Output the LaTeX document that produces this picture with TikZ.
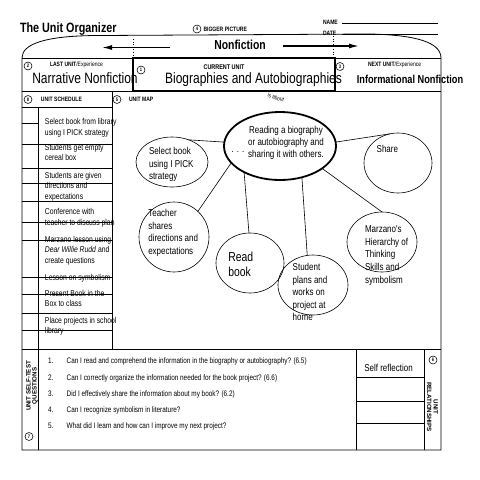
\documentclass[tikz,border=0pt]{standalone}
\usepackage{fontspec}
\setmainfont{Liberation Sans}
\newfontfamily\nf[FakeStretch=0.8]{Liberation Sans}
\usetikzlibrary{shapes.geometric,arrows.meta}
\newcommand\fsz[2]{\fontsize{#1}{#2}\selectfont}
\begin{document}
\begin{tikzpicture}[x=1pt,y=-1pt,
  every node/.style={inner sep=0pt,outer sep=0pt},
  rule/.style={line width=0.8pt},
  hair/.style={line width=0.6pt},
  bubble/.style={ellipse, draw, line width=0.6pt, inner sep=0pt},
  hub/.style={ellipse, draw, line width=1.8pt, inner sep=0pt},
  num/.style={circle, draw, line width=0.55pt, minimum size=8pt, font=\nf\bfseries\fsz{5}{5}},
  tag/.style={anchor=west, font=\nf\fsz{6.3}{7}},
  sched/.style={anchor=north west, align=left, font=\nf\fsz{8.5}{10.8}},
  maptext/.style={anchor=north west, align=left, font=\nf\fsz{10}{12.7}},
  quest/.style={anchor=base west, font=\nf\fsz{8}{9}},
  link/.style={line width=0.6pt},
  bigarrow/.style={line width=1.3pt, -{Latex[length=10pt,width=5pt]}}
]
\useasboundingbox (0,0) rectangle (480,480);
\fill[white] (0,0) rectangle (480,480);

% header
\node[anchor=base west, font=\nf\bfseries\fsz{13.5}{16}] (title) at (20,32) {The Unit Organizer};
\node[num] (n4) at (197,29) {4};
\node[tag, font=\nf\bfseries\fsz{6.3}{7}] (bigger) at (203.5,29.5) {BIGGER PICTURE};
\node[anchor=base west, font=\nf\bfseries\fsz{6.3}{7}] (name) at (323,24) {NAME};
\node[anchor=base west, font=\nf\bfseries\fsz{6.3}{7}] (date) at (323,35) {DATE};
\coordinate (nameA) at (342,23.5); \coordinate (nameB) at (438,23.5);
\coordinate (dateA) at (342,34); \coordinate (dateB) at (438,34);
\draw[hair] (nameA) -- (nameB);
\draw[hair] (dateA) -- (dateB);
\node[font=\nf\bfseries\fsz{13}{15}] (bp) at (240,44.5) {Nonfiction};
\coordinate (la) at (170,47.5); \coordinate (lb) at (102,47.5);
\coordinate (ra) at (283,46); \coordinate (rb) at (359,46);
\draw[bigarrow] (la) -- (lb);
\draw[bigarrow] (ra) -- (rb);
\draw[hair, dotted] (133,39) -- (133,58);
\draw[hair, dotted] (333,36) -- (333,58);

% unit row
\node[num] (n2) at (28,66) {2};
\node[tag] (lastlab) at (50,65) {{\bfseries LAST UNIT}/Experience};
\node[anchor=base, font=\nf\fsz{15}{17}] (last) at (85,83) {Narrative Nonfiction};
\node[num] (n1) at (141,70) {1};
\node[font=\nf\bfseries\fsz{6.8}{7}] (curlab) at (224,67) {CURRENT UNIT};
\node[anchor=base, font=\nf\fsz{15}{17}] (cur) at (253.5,83) {Biographies and Autobiographies};
\node[num] (n3) at (340,66.5) {3};
\node[tag] (nextlab) at (368,65) {{\bfseries NEXT UNIT}/Experience};
\node[anchor=base, font=\nf\bfseries\fsz{11.5}{13}] (next) at (410,83) {Informational Nonfiction};

% frame
\draw[rule] (22,58) .. controls (22,44) and (45,35.5) .. (100,35.5) -- (370,34)
  .. controls (415,35) and (441,42) .. (441,58) -- (441,450) -- (22,450) -- cycle;
\draw[rule] (22,58) -- (441,58);
\draw[rule] (22,91) -- (441,91);
\draw[rule] (22,349) -- (441,349);
\draw[line width=2.4pt] (133,58) rectangle (335,91);

% schedule column
\draw[rule] (112,91) -- (112,349);
\draw[rule] (22,107) -- (112,107);
\draw[rule] (38,107) -- (38,349);
\draw[hair] (22,123) -- (38,123);
\foreach \yy in {144,168,183,201,222,240,277,294,313,330}
  \draw[hair] (22,\yy) -- (112,\yy);
\node[num] (n8) at (28,99.5) {8};
\node[tag, font=\nf\bfseries\fsz{6.3}{7}] (schedlab) at (41,99.5) {UNIT SCHEDULE};
\node[num] (n5) at (117,99.5) {5};
\node[tag, font=\nf\bfseries\fsz{6.3}{7}] (maplab) at (129,99.5) {UNIT MAP};

\node[sched] (s1) at (45,118.4) {Select book from library\\using I PICK strategy};
\node[sched] (s2) at (45,143.9) {Students get empty\\cereal box};
\node[sched] (s3) at (45,171.9) {Students are given\\directions and\\expectations};
\node[sched] (s4) at (45,208.4) {Conference with\\teacher to discuss plan};
\node[sched] (s5) at (45,235.9) {Marzano lesson using\\\textit{Dear Willie Rudd} and\\create questions};
\node[sched] (s6) at (45,273.9) {Lesson on symbolism};
\node[sched] (s7) at (45,289.9) {Present Book in the\\Box to class};
\node[sched] (s8) at (45,316.9) {Place projects in school\\library};

% unit map
\node[font=\nf\fsz{6}{6}, rotate=-18] (about) at (276,97.5) {is about};
\node[hub, minimum width=112pt, minimum height=68pt] (hubE) at (280,146) {};
\node[anchor=north, align=center, font=\nf\fsz{10}{12}] (hubT) at (286,126.4) {Reading a biography\\or autobiography and\\sharing it with others.};
\node[font=\nf\fsz{10}{10}] (dots) at (238,152) {. . .};
\node[bubble, minimum width=72pt, minimum height=50pt] (sel) at (172,162) {};
\node[bubble, minimum width=68pt, minimum height=60pt] (share) at (398,163) {};
\node[bubble, minimum width=70pt, minimum height=70pt] (teach) at (174,237) {};
\node[bubble, minimum width=68pt, minimum height=60pt] (read) at (250,263) {};
\node[bubble, minimum width=70pt, minimum height=60pt] (stud) at (313,285) {};
\node[bubble, minimum width=70pt, minimum height=60pt] (marz) at (382,242) {};
\node[maptext] (selT) at (149,147.1) {Select book\\using I PICK\\strategy};
\node[maptext] (shareT) at (376.7,145.7) {Share};
\node[maptext] (teachT) at (148.3,209.1) {Teacher\\shares\\directions and\\expectations};
\node[maptext, font=\nf\fsz{13}{15}] (readT) at (228.3,252) {Read\\book};
\node[maptext, font=\nf\fsz{10}{12.65}] (studT) at (292.7,263.1) {Student\\plans and\\works on\\project at\\home};
\node[maptext] (marzT) at (365,225.7) {Marzano's\\Hierarchy of\\Thinking\\Skills and\\symbolism};
\draw[link] (hubE.176) -- (sel.53);
\draw[link] (hubE.4) -- (share.105);
\draw[link] (hubE.332) -- (marz.90);
\draw[link] (hubE.199) -- (teach.47);
\draw[link] (hubE.216) -- (read.92);
\draw[link] (hubE.305) -- (stud.101);

% self-test section
\draw[rule] (38,349) -- (38,450);
\draw[rule] (356,349) -- (356,450);
\draw[rule] (424,349) -- (424,450);
\foreach \yy in {377,401,423}
  \draw[hair] (356,\yy) -- (424,\yy);
\node[rotate=90, align=center, font=\bfseries\fsz{6.2}{6}] (stq) at (32,386) {UNIT SELF-TEST\\QUESTIONS};
\node[num] (n7) at (29,436.5) {7};
\node[rotate=-90, align=center, font=\bfseries\fsz{6.2}{6.5}] (rel) at (432.5,407) {UNIT\\RELATIONSHIPS};
\node[num] (n6) at (433,360) {6};
\node[font=\nf\fsz{10}{12}] (selfr) at (388.5,367.5) {Self reflection};
\node[quest] (k1) at (48,363.9) {1.};
\node[quest] (q1) at (66.7,363.9) {Can I read and comprehend the information in the biography or autobiography? (6.5)};
\node[quest] (k2) at (48,380.2) {2.};
\node[quest] (q2) at (66.7,380.2) {Can I correctly organize the information needed for the book project? (6.6)};
\node[quest] (k3) at (48,396.2) {3.};
\node[quest] (q3) at (66.7,396.2) {Did I effectively share the information about my book? (6.2)};
\node[quest] (k4) at (48,412.2) {4.};
\node[quest] (q4) at (66.7,412.2) {Can I recognize symbolism in literature?};
\node[quest] (k5) at (48,428.6) {5.};
\node[quest] (q5) at (66.7,428.6) {What did I learn and how can I improve my next project?};
\end{tikzpicture}
\end{document}
